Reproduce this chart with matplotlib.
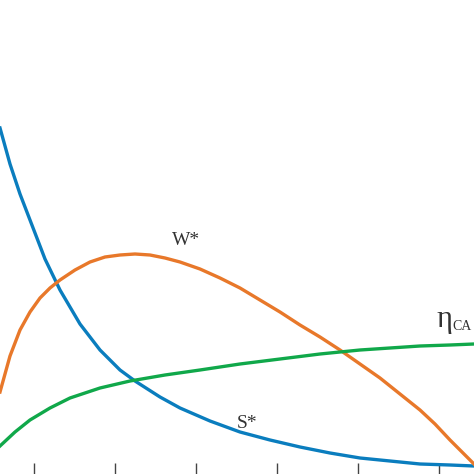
import matplotlib
matplotlib.use("Agg")
import matplotlib.pyplot as plt
import numpy as np

# values (x in px units, y = height above bottom in px)
blue_x = [0, 10, 20, 30, 45, 60, 80, 100, 120, 135, 160, 180, 210, 240, 270, 300, 330, 360, 390, 420, 450, 474]
blue_y = [346, 310, 280, 254, 215, 184, 150, 124, 104, 93, 77, 66, 53, 42, 34, 27, 21, 16, 13, 10, 9, 8]
orange_x = [0, 5, 10, 20, 30, 40, 50, 60, 75, 90, 105, 120, 135, 150, 165, 180, 200, 220, 240, 260, 280, 300, 320, 340, 360, 380, 400, 420, 435, 450, 462, 474]
orange_y = [82, 100, 118, 144, 162, 176, 186, 194, 204, 212, 217, 219, 220, 219, 216, 212, 205, 196, 186, 174, 162, 149, 137, 124, 110, 96, 80, 64, 50, 34, 22, 10]
green_x = [0, 15, 30, 50, 70, 100, 130, 165, 200, 240, 280, 320, 360, 390, 420, 450, 474]
green_y = [28, 42, 54, 66, 76, 86, 93, 99, 104, 110, 115, 120, 124, 126, 128, 129, 130]
tick_pos = [34, 115, 196, 277, 358, 439]

fig = plt.figure(figsize=(4.74, 4.74), dpi=100)
ax = fig.add_axes([0, 0, 1, 1])
lw = 2.4
ax.plot(blue_x, blue_y, color="#0A7DBE", lw=lw)
ax.plot(orange_x, orange_y, color="#E8782A", lw=lw)
ax.plot(green_x, green_y, color="#10A84A", lw=lw)
ax.set_xlim(0, 474)
ax.set_ylim(0, 474)
for s in ax.spines.values():
    s.set_visible(False)
ax.set_xticks(tick_pos)
ax.set_xticklabels([])
ax.set_yticks([])
ax.tick_params(axis="x", direction="in", length=8, width=1, color="#444444")
fam = ["Liberation Serif"]
ax.text(186, 234, "W*", fontsize=14, family=fam, ha="center", va="center", color="#333333")
ax.text(247, 51, "S*", fontsize=14, family=fam, ha="center", va="center", color="#333333")
ax.text(444, 154, "η", fontsize=22, family=fam, ha="center", va="center", color="#333333")
ax.text(452, 147, "CA", fontsize=10, family=fam, ha="left", va="center", color="#333333")
fig.savefig("out.png", dpi=100)
